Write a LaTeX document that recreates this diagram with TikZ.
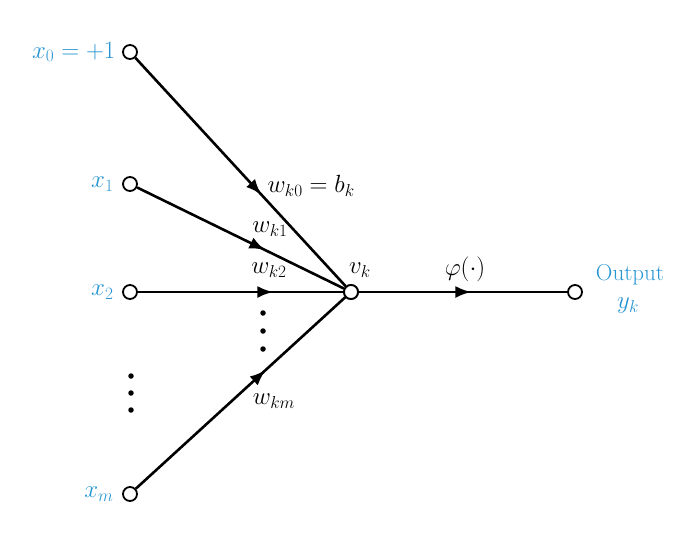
\documentclass[tikz,border=0pt]{standalone}
\usetikzlibrary{decorations.markings,arrows.meta}
\definecolor{lblue}{RGB}{40,150,210}
\begin{document}
\begin{tikzpicture}[x=1pt,y=-1pt,
  term/.style={circle,draw,line width=1.8pt,fill=white,inner sep=0pt,minimum size=14pt},
  conn/.style={line width=2.6pt,postaction={decorate},decoration={markings,mark=at position #1 with {\arrow{Latex[length=16pt,width=12pt]}}}},
  inl/.style={text=lblue,anchor=east,font=\fontsize{23}{27}\selectfont},
  wl/.style={font=\fontsize{23}{27}\selectfont},
  dot/.style={circle,fill,inner sep=0pt,minimum size=5.5pt}]
\useasboundingbox (0,0) rectangle (692,552);
\node[term] (x0) at (130,52) {};
\node[term] (x1) at (130,184) {};
\node[term] (x2) at (130,292) {};
\node[term] (xm) at (130,494) {};
\node[term] (v) at (351,292) {};
\node[term] (o) at (575,292) {};
\draw[conn=0.6] (x0) -- (v);
\draw[conn=0.62] (x1) -- (v);
\draw[conn=0.66] (x2) -- (v);
\draw[conn=0.62] (xm) -- (v);
\draw[conn=0.54] (v) -- (o);
\node[term] at (v) {};
\node[inl] (lx0) at (119,52) {$x_0=+1$};
\node[inl] (lx1) at (117,184) {$x_1$};
\node[inl] (lx2) at (117,292) {$x_2$};
\node[inl] (lxm) at (117,494) {$x_m$};
\node[wl,anchor=west] (w0) at (264,186) {$w_{k0}=b_k$};
\node[wl] (w1) at (270,229) {$w_{k1}$};
\node[wl] (w2) at (269,270) {$w_{k2}$};
\node[wl] (wm) at (274,401) {$w_{km}$};
\node[wl] (vk) at (360,270) {$v_k$};
\node[wl] (phi) at (465,269) {$\varphi(\cdot)$};
\node[inl,anchor=center] (out) at (630,275) {Output};
\node[inl,anchor=center] (yk) at (628,306) {$y_k$};
\foreach \y [count=\i] in {376,393,410} \node[dot] (da\i) at (131,\y) {};
\foreach \y [count=\i] in {313,331,349} \node[dot] (db\i) at (263,\y) {};
\end{tikzpicture}
\end{document}
